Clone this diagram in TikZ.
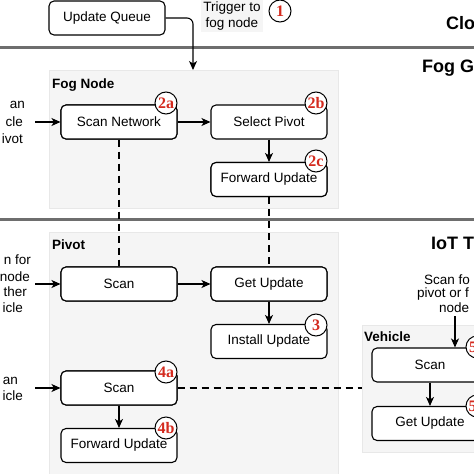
\documentclass[tikz,border=0pt]{standalone}
\usepackage{fontspec}
\setmainfont{Liberation Sans}
\newfontfamily\badgefont{Liberation Serif}
\usetikzlibrary{arrows.meta}
\definecolor{grpfill}{HTML}{F5F5F5}
\definecolor{grpline}{HTML}{E8E8E8}
\definecolor{sepline}{HTML}{6E6E6E}
\definecolor{badgered}{HTML}{D42A1E}
\begin{document}
\begin{tikzpicture}[x=1pt,y=-1pt,
  box/.style={draw=black, line width=1.1pt, rounded corners=5pt, fill=white,
    minimum width=116pt, minimum height=34pt, inner sep=0pt,
    font=\fontsize{13.5}{16}\selectfont},
  badge/.style={circle, draw=black, line width=1pt, fill=white, minimum size=22pt,
    inner sep=0pt, font=\badgefont\bfseries\fontsize{16}{16}\selectfont, text=badgered},
  grp/.style={fill=grpfill, draw=grpline, line width=0.5pt},
  grptitle/.style={anchor=west, font=\bfseries\fontsize{13.5}{16}\selectfont, inner sep=0pt},
  tier/.style={anchor=west, font=\bfseries\fontsize{18}{20}\selectfont, inner sep=0pt},
  lbl/.style={font=\fontsize{13.5}{16}\selectfont, inner sep=0pt},
  frag/.style={font=\fontsize{13.5}{16}\selectfont, inner sep=0pt, anchor=east},
  fragr/.style={font=\fontsize{13.5}{14}\selectfont, inner sep=0pt, anchor=west},
  flow/.style={line width=1.1pt, -{Stealth[length=9pt,width=8pt,inset=2.5pt]}},
  link/.style={line width=2pt, dash pattern=on 7pt off 5pt},
  sep/.style={line width=3pt, draw=sepline}
]
\useasboundingbox (0,0) rectangle (474,474);

% groups
\draw[grp] (49,70) rectangle (338,208);
\draw[grp] (49,232) rectangle (338,480);
\draw[grp] (362,325) rectangle (480,452);

% tier separators
\draw[sep] (0,47) -- (474,47);
\draw[sep] (0,219) -- (474,219);

% tier titles (cut by the frame)
\node[tier] (cloud) at (446,23) {Clo};
\node[tier] (foggw) at (422,68) {Fog G};
\node[tier] (iot) at (431,243) {IoT T};

% group titles
\node[grptitle] (fogt) at (52,85) {Fog Node};
\node[grptitle] (pivt) at (52,245) {Pivot};
\node[grptitle] (veht) at (364,337) {Vehicle};

% boxes
\node[box] (uq) at (107,18) {Update Queue};
\node[box] (scannet) at (119,122) {Scan Network};
\node[box] (selpiv) at (269,122) {Select Pivot};
\node[box] (fwdone) at (269,179.5) {Forward Update};
\node[box] (pscan) at (119,284) {Scan};
\node[box] (getup) at (269,284) {Get Update};
\node[box] (install) at (269,341.5) {Install Update};
\node[box] (scanfour) at (119,388) {Scan};
\node[box] (fwdfour) at (119,445.5) {Forward Update};
\node[box] (vscan) at (430,365) {Scan};
\node[box] (vget) at (430,423.5) {Get Update};

% trigger label
\node[lbl, fill=grpfill, align=center, inner sep=2pt] (trig) at (232,16) {Trigger to\\fog node};

% free ends
\coordinate (fogin) at (193,70);
\coordinate (inA) at (35,122);
\coordinate (inB) at (35,284);
\coordinate (inC) at (35,388);
\coordinate (vin) at (455,316);
\coordinate (vedge) at (362,388);

% dashed links
\draw[link] (scannet.south) -- (pscan.north);
\draw[link] (fwdone.south) -- (getup.north);
\draw[link] (scanfour.east) -- (vedge);

% redraw boxes above dashes
\node[box] at (scannet) {Scan Network};
\node[box] at (fwdone) {Forward Update};
\node[box] at (pscan) {Scan};
\node[box] at (getup) {Get Update};
\node[box] at (scanfour) {Scan};

% flows
\draw[flow, rounded corners=6pt] (uq.east) -| (fogin);
\draw[flow] (inA) -- (scannet.west);
\draw[flow] (scannet.east) -- (selpiv.west);
\draw[flow] (selpiv.south) -- (fwdone.north);
\draw[flow] (inB) -- (pscan.west);
\draw[flow] (pscan.east) -- (getup.west);
\draw[flow] (getup.south) -- (install.north);
\draw[flow] (inC) -- (scanfour.west);
\draw[flow] (scanfour.south) -- (fwdfour.north);
\draw[flow] (vin) -- (vin |- vscan.north);
\draw[flow] (vscan.south) -- (vget.north);

% left-edge fragments
\node[frag] (la1) at (25,105) {an};
\node[frag] (la2) at (23,122) {cle};
\node[frag] (la3) at (23,139) {ivot};
\node[frag] (lb1) at (31,260) {n for};
\node[frag] (lb2) at (30,277) {node};
\node[frag] (lb3) at (27,292) {ther};
\node[frag] (lb4) at (23,308) {icle};
\node[frag] (lc1) at (18,381) {an};
\node[frag] (lc2) at (23,396) {icle};

% right-edge fragments
\node[fragr] (ra1) at (424,280) {Scan fo};
\node[fragr] (ra2) at (417,294) {pivot or f};
\node[fragr] (ra3) at (439,308) {node};

% badges
\node[badge] (b1) at (280,11) {1};
\node[badge] (b2a) at (166,103) {2a};
\node[badge] (b2b) at (316,103) {2b};
\node[badge] (b2c) at (316,161) {2c};
\node[badge] (b3) at (316,325) {3};
\node[badge] (b4a) at (166,372) {4a};
\node[badge] (b4b) at (166,428) {4b};
\node[badge] (b5a) at (477,347) {5a};
\node[badge] (b5b) at (477,406) {5b};
\end{tikzpicture}
\end{document}
